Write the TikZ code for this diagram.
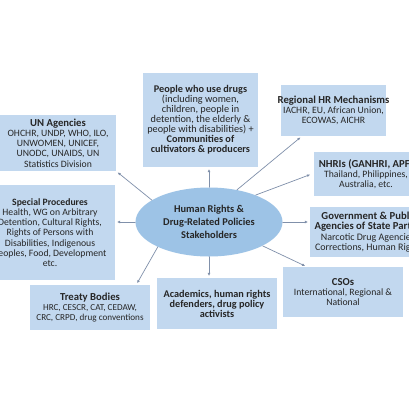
\documentclass[tikz,border=0pt]{standalone}
\usepackage{fontspec}
\setmainfont{Carlito}
\usetikzlibrary{shapes.geometric, arrows.meta, positioning, calc}
\definecolor{boxblue}{RGB}{194,216,239}
\definecolor{hubblue}{RGB}{157,195,230}
\definecolor{flowgray}{RGB}{128,144,170}
\newcommand{\boxtitle}[1]{{\fontsize{7.6}{7.6}\selectfont\bfseries #1}}

\begin{document}
\begin{tikzpicture}[
  x=0.25mm, y=-0.25mm,
  font=\fontsize{6.9}{7.3}\selectfont,
  line join=round,
  line cap=round,
  >=Latex,
  flow/.style={-{Latex[length=0.8mm,width=0.7mm]}, line width=0.5pt,
               draw=flowgray, shorten >=0.4mm},
  box/.style={fill=boxblue, align=center, text=black!85, inner sep=0.5mm},
  big/.style={box, font=\fontsize{7.3}{7.1}\selectfont},
  hub/.style={ellipse, fill=hubblue, inner sep=0pt, align=center,
              text=black!85, font=\bfseries\fontsize{7.4}{9}\selectfont,
              minimum width=36.75mm, minimum height=17.25mm}
]
\fill[white] (0,0) rectangle (409,409);
\useasboundingbox (0,0) rectangle (409,409);
\clip (0,0) rectangle (409,409);

\node[hub] (hub) at (209,222)
  {Human Rights \&\\Drug-Related Policies\\Stakeholders};

\node[big, minimum width=28.75mm, minimum height=23.5mm] (ppl) at (200.5,120)
  {\textbf{People who use drugs}\\(including women,\\children, people in\\
   detention, the elderly \&\\people with disabilities) +\\
   \textbf{Communities of}\\\textbf{cultivators \& producers}};
\node[box, minimum width=29mm, minimum height=14mm] (un) at (58,143)
  {\boxtitle{UN Agencies}\\OHCHR, UNDP, WHO, ILO,\\UNWOMEN, UNICEF,\\
   UNODC, UNAIDS, UN\\Statistics Division};
\node[box, minimum width=32.5mm, minimum height=23.75mm] (sp) at (50,232.5)
  {\textbf{Special Procedures}\\Health, WG on Arbitrary\\
   Detention, Cultural Rights,\\Rights of Persons with\\
   Disabilities, Indigenous\\Peoples, Food, Development\\etc.};
\node[box, minimum width=30mm, minimum height=11.25mm,
      font=\fontsize{6.5}{7.3}\selectfont] (tb) at (90,307.5)
  {\boxtitle{Treaty Bodies}\\HRC, CESCR, CAT, CEDAW,\\CRC, CRPD, drug conventions};
\node[big, minimum width=30mm, minimum height=12.75mm] (aca) at (217,303.5)
  {\textbf{Academics, human rights}\\\textbf{defenders, drug policy}\\
   \textbf{activists}};
\node[box, minimum width=30mm, minimum height=12.5mm] (cso) at (343,292)
  {\boxtitle{CSOs}\\International, Regional \&\\National};
\node[box, minimum width=29.5mm, minimum height=12.5mm,
      font=\fontsize{7.1}{7.3}\selectfont] (gov) at (369,232)
  {\boxtitle{Government \& Public}\\\boxtitle{Agencies of State Parties}\\
   Narcotic Drug Agencies,\\Corrections, Human Rights};
\node[box, minimum width=26mm, minimum height=11mm] (nhri) at (366,174)
  {\boxtitle{NHRIs (GANHRI, APF)}\\Thailand, Philippines,\\Australia, etc.};
\node[box, minimum width=25.75mm, minimum height=12.75mm] (reg) at (333.5,110.5)
  {\makebox[20mm]{\boxtitle{Regional HR Mechanisms}}\\IACHR, EU, African Union,\\
   ECOWAS, AICHR};

\draw[flow] (hub.north) -- (hub.north |- ppl.south);
\draw[flow] (hub.159) -- (un.south east);
\draw[flow] (hub.west) -- (hub.west -| sp.east);
\draw[flow] (hub.206) -- ([xshift=-3.5mm]tb.north east);
\draw[flow] (hub.south) -- (hub.south |- aca.north);
\draw[flow] (hub.336) -- ([xshift=6mm]cso.north west);
\draw[flow] (hub.east) -- (hub.east -| gov.west);
\draw[flow] (hub.30) -- ([xshift=-0.5mm]nhri.west);
\draw[flow] (hub.49) -- ([xshift=5.25mm]reg.south west);
\end{tikzpicture}
\end{document}
